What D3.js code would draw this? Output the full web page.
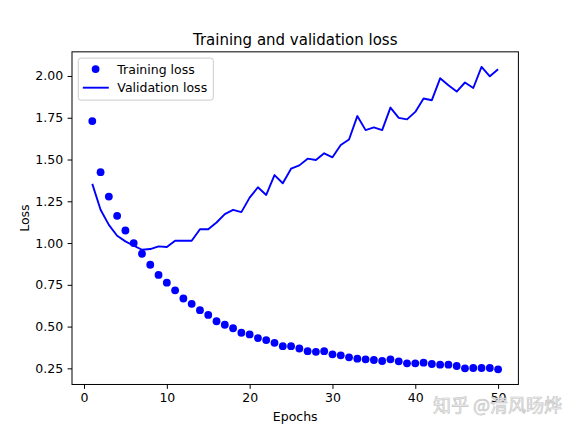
<!DOCTYPE html>
<html>
<head>
<meta charset="utf-8">
<script src="https://cdn.jsdelivr.net/npm/d3@7"></script>
<style>
  body { margin: 0; background: #fff; }
  text { font-family: "DejaVu Sans", sans-serif; fill: #000; }
</style>
</head>
<body>
<div id="chart"></div>
<script>
// epochs 1..50
var epochs = [1,2,3,4,5,6,7,8,9,10,11,12,13,14,15,16,17,18,19,20,21,22,23,24,25,
  26,27,28,29,30,31,32,33,34,35,36,37,38,39,40,41,42,43,44,45,46,47,48,49,50];

var trainLoss = [1.73,1.424,1.278,1.163,1.075,1.0,0.936,0.870,0.809,0.763,
  0.717,0.668,0.636,0.598,0.570,0.532,0.511,0.490,0.463,0.453,
  0.431,0.419,0.403,0.383,0.383,0.369,0.353,0.349,0.353,0.334,
  0.328,0.316,0.308,0.304,0.300,0.294,0.304,0.292,0.280,0.280,
  0.284,0.276,0.272,0.272,0.264,0.250,0.252,0.252,0.252,0.244];

var valLoss = [1.354,1.199,1.109,1.044,1.010,0.984,0.960,0.964,0.980,0.976,
  1.014,1.014,1.014,1.083,1.083,1.123,1.173,1.199,1.185,1.272,
  1.334,1.288,1.407,1.358,1.445,1.465,1.505,1.497,1.537,1.513,
  1.587,1.620,1.760,1.676,1.692,1.676,1.811,1.749,1.740,1.785,
  1.865,1.855,1.986,1.945,1.907,1.961,1.928,2.054,1.998,2.040];

var xTicks = [0,10,20,30,40,50];
var yTicks = [0.25,0.50,0.75,1.00,1.25,1.50,1.75,2.00];

var W = 576, H = 432;
var margin = {left: 72, right: 57.6, top: 51.84, bottom: 47.52};

var svg = d3.select("#chart").append("svg")
  .attr("width", W).attr("height", H);

// matplotlib style 5% padding
var xmin = d3.min(epochs), xmax = d3.max(epochs);
var xpad = (xmax - xmin) * 0.05;
var allY = trainLoss.concat(valLoss);
var ymin = d3.min(allY), ymax = d3.max(allY);
var ypad = (ymax - ymin) * 0.05;

var x = d3.scaleLinear()
  .domain([xmin - xpad, xmax + xpad])
  .range([margin.left, W - margin.right]);
var y = d3.scaleLinear()
  .domain([ymin - ypad, ymax + ypad])
  .range([H - margin.bottom, margin.top]);

// validation line
svg.append("path")
  .datum(epochs)
  .attr("fill", "none")
  .attr("stroke", "#0000ff")
  .attr("stroke-width", 1.9)
  .attr("stroke-linejoin", "round")
  .attr("d", d3.line()
    .x(function(d){ return x(d); })
    .y(function(d, i){ return y(valLoss[i]); }));

// training points
svg.selectAll("circle.train")
  .data(epochs)
  .enter()
  .append("circle")
  .attr("class", "train")
  .attr("cx", function(d){ return x(d); })
  .attr("cy", function(d, i){ return y(trainLoss[i]); })
  .attr("r", 3.9)
  .attr("fill", "#0000ff");

// axes
var xAxis = svg.append("g")
  .attr("transform", "translate(0," + (H - margin.bottom) + ")")
  .call(d3.axisBottom(x).tickValues(xTicks).tickSize(4.4).tickPadding(4.4)
    .tickFormat(d3.format("d")));
var yAxis = svg.append("g")
  .attr("transform", "translate(" + margin.left + ",0)")
  .call(d3.axisLeft(y).tickValues(yTicks).tickSize(4.4).tickPadding(4.4)
    .tickFormat(d3.format(".2f")));

[xAxis, yAxis].forEach(function(g){
  g.select(".domain").remove();
  g.selectAll("line").attr("stroke", "#000").attr("stroke-width", 1);
  g.selectAll("text").style("font-size", "12.5px")
    .style("font-family", "DejaVu Sans, sans-serif");
});

// frame
svg.append("rect")
  .attr("x", margin.left).attr("y", margin.top)
  .attr("width", W - margin.left - margin.right)
  .attr("height", H - margin.top - margin.bottom)
  .attr("fill", "none").attr("stroke", "#000").attr("stroke-width", 1);

// title and labels
var cx = (margin.left + W - margin.right) / 2;
svg.append("text").attr("x", cx).attr("y", 45)
  .attr("text-anchor", "middle").style("font-size", "15px")
  .text("Training and validation loss");
svg.append("text").attr("x", cx).attr("y", 421)
  .attr("text-anchor", "middle").style("font-size", "12.5px")
  .text("Epochs");
svg.append("text")
  .attr("transform", "translate(29," + ((margin.top + H - margin.bottom) / 2) + ") rotate(-90)")
  .attr("text-anchor", "middle").style("font-size", "12.5px")
  .text("Loss");

// legend
var lg = svg.append("g").attr("transform", "translate(78.3,58.1)");
lg.append("rect")
  .attr("width", 135).attr("height", 42).attr("rx", 2.5)
  .attr("fill", "#fff").attr("fill-opacity", 0.8)
  .attr("stroke", "#cccccc").attr("stroke-width", 1);
lg.append("circle").attr("cx", 17.3).attr("cy", 11).attr("r", 3.9).attr("fill", "#0000ff");
lg.append("line").attr("x1", 4.5).attr("x2", 30.5).attr("y1", 29.6).attr("y2", 29.6)
  .attr("stroke", "#0000ff").attr("stroke-width", 1.9);
lg.append("text").attr("x", 39).attr("y", 15.5).style("font-size", "12.5px").text("Training loss");
lg.append("text").attr("x", 39).attr("y", 34).style("font-size", "12.5px").text("Validation loss");

// watermark (overlaps the "50" tick label as in the source image)
svg.append("text")
  .attr("x", 562).attr("y", 412)
  .attr("text-anchor", "end")
  .style("font-family", "Noto Sans CJK SC, sans-serif")
  .style("font-size", "18px")
  .style("fill", "#f0f0f0")
  .attr("stroke", "#c4c4c4").attr("stroke-width", 0.6)
  .text("知乎 @清风旸烨");
</script>
</body>
</html>
